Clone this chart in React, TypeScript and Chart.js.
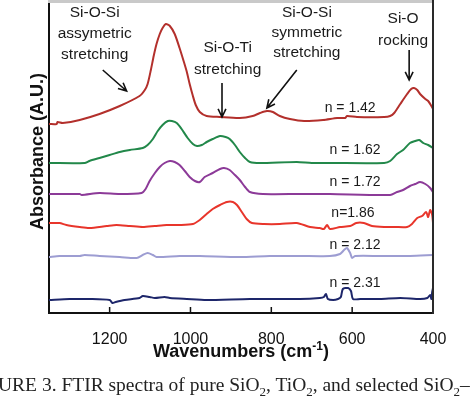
import { useEffect, useRef } from "react";
import { Chart, registerables } from "chart.js";

Chart.register(...registerables);

// Wavenumber axis (cm-1), drawn high to low
const X_MIN = 400;
const X_MAX = 1350;
const X_TICKS = [1200, 1000, 800, 600, 400];
const INNER_TICKS = [1200, 1000, 800, 600];

// Absorbance axis (arbitrary units, spectra stacked with offsets)
const Y_MIN = 0;
const Y_MAX = 3.11;

// n = 1.42
const WN_142 = [1350, 1331, 1329, 1316, 1274, 1225, 1175, 1126, 1113, 1106, 1098, 1091, 1084, 1076, 1069, 1061, 1051, 1039, 1027, 1017, 1009, 1002, 994, 987, 977, 960, 927, 878, 846, 828, 811, 796, 779, 754, 719, 672, 637, 617, 613, 588, 521, 506, 496, 481, 464, 454, 447, 439, 432, 419, 412, 404, 400];
const ABS_142 = [1.89, 1.89, 1.91, 1.90, 1.93, 1.99, 2.07, 2.17, 2.23, 2.29, 2.43, 2.57, 2.69, 2.79, 2.85, 2.89, 2.87, 2.79, 2.65, 2.52, 2.41, 2.29, 2.17, 2.08, 2.01, 1.97, 1.96, 1.95, 1.97, 2.00, 2.02, 2.01, 1.97, 1.94, 1.92, 1.93, 1.95, 1.95, 1.97, 1.96, 1.96, 1.97, 2.00, 2.09, 2.19, 2.24, 2.25, 2.23, 2.19, 2.14, 2.12, 2.07, 2.04];

// n = 1.62
const WN_162 = [1350, 1262, 1250, 1225, 1200, 1175, 1150, 1118, 1106, 1093, 1081, 1069, 1056, 1046, 1034, 1022, 1007, 994, 984, 972, 960, 945, 927, 913, 903, 890, 878, 865, 853, 828, 737, 700, 655, 521, 506, 489, 474, 457, 444, 434, 424, 412, 400];
const ABS_162 = [1.50, 1.50, 1.52, 1.55, 1.58, 1.61, 1.63, 1.65, 1.68, 1.74, 1.82, 1.88, 1.92, 1.92, 1.90, 1.84, 1.75, 1.69, 1.67, 1.68, 1.71, 1.74, 1.77, 1.76, 1.74, 1.68, 1.61, 1.55, 1.51, 1.50, 1.51, 1.50, 1.50, 1.50, 1.52, 1.59, 1.63, 1.70, 1.72, 1.73, 1.70, 1.68, 1.65];

// n = 1.72
const WN_172 = [1350, 1274, 1269, 1225, 1175, 1121, 1111, 1101, 1088, 1076, 1064, 1051, 1039, 1027, 1014, 1002, 989, 977, 965, 945, 927, 917, 903, 890, 878, 865, 853, 821, 729, 655, 506, 489, 474, 457, 444, 432, 419, 407, 400];
const ABS_172 = [1.19, 1.19, 1.18, 1.20, 1.19, 1.20, 1.24, 1.32, 1.40, 1.46, 1.50, 1.52, 1.51, 1.48, 1.42, 1.36, 1.32, 1.31, 1.36, 1.40, 1.44, 1.45, 1.43, 1.38, 1.33, 1.26, 1.21, 1.19, 1.19, 1.19, 1.18, 1.21, 1.23, 1.27, 1.29, 1.31, 1.29, 1.25, 1.21];

// n = 1.86
const WN_186 = [1350, 1324, 1307, 1274, 1250, 1207, 1183, 1150, 1118, 1088, 1059, 1027, 994, 977, 960, 945, 927, 910, 895, 885, 873, 861, 848, 818, 779, 737, 704, 680, 670, 662, 655, 630, 605, 590, 571, 551, 521, 494, 464, 452, 439, 427, 417, 412, 407, 402, 400];
const ABS_186 = [0.90, 0.90, 0.88, 0.86, 0.85, 0.87, 0.88, 0.87, 0.86, 0.87, 0.88, 0.88, 0.89, 0.93, 0.99, 1.04, 1.08, 1.11, 1.11, 1.08, 1.01, 0.94, 0.90, 0.89, 0.89, 0.90, 0.86, 0.85, 0.84, 0.88, 0.84, 0.86, 0.87, 0.90, 0.90, 0.87, 0.86, 0.86, 0.86, 0.89, 0.95, 0.97, 1.01, 0.96, 1.03, 0.98, 0.90];

// n = 2.12
const WN_212 = [1350, 1324, 1274, 1262, 1225, 1175, 1133, 1118, 1106, 1093, 1084, 1027, 977, 878, 804, 729, 655, 630, 620, 613, 605, 600, 593, 531, 457, 400];
const ABS_212 = [0.56, 0.57, 0.57, 0.58, 0.57, 0.56, 0.55, 0.58, 0.60, 0.58, 0.56, 0.57, 0.57, 0.56, 0.57, 0.57, 0.57, 0.59, 0.63, 0.65, 0.60, 0.55, 0.57, 0.57, 0.57, 0.58];

// n = 2.31
const WN_231 = [1350, 1299, 1250, 1200, 1193, 1185, 1163, 1126, 1118, 1101, 1088, 1064, 1051, 1009, 960, 853, 729, 680, 670, 665, 660, 647, 635, 628, 623, 610, 603, 598, 580, 531, 481, 432, 414, 407, 404, 402, 400];
const ABS_231 = [0.13, 0.14, 0.14, 0.13, 0.10, 0.11, 0.13, 0.15, 0.17, 0.16, 0.15, 0.16, 0.15, 0.14, 0.13, 0.14, 0.14, 0.15, 0.16, 0.19, 0.14, 0.13, 0.14, 0.16, 0.24, 0.25, 0.22, 0.14, 0.14, 0.14, 0.15, 0.14, 0.15, 0.18, 0.14, 0.21, 0.25];

const SERIES_WN = [WN_142, WN_162, WN_172, WN_186, WN_212, WN_231];
const SERIES_ABS = [ABS_142, ABS_162, ABS_172, ABS_186, ABS_212, ABS_231];
const SERIES_LABELS = ["n = 1.42", "n = 1.62", "n = 1.72", "n=1.86", "n = 2.12", "n = 2.31"];
const SERIES_COLORS = ["#B3302C", "#22884A", "#8C3A98", "#E8352B", "#9D9DD2", "#1D266A"];
const LABEL_WN = [605, 593, 593, 598, 593, 593];
const LABEL_ABS = [2.05, 1.63, 1.31, 1.00, 0.68, 0.30];

// Band assignments: text lines, text centre (wn), first-line height, line step, arrow tail and head
const NOTE_LINES = [
  ["Si-O-Si", "assymetric", "stretching"],
  ["Si-O-Ti", "stretching"],
  ["Si-O-Si", "symmetric", "stretching"],
  ["Si-O", "rocking"],
];
const NOTE_WN = [1237, 908, 712, 474];
const NOTE_ABS = [3.0, 2.65, 3.0, 2.94];
const NOTE_STEP = [0.21, 0.22, 0.2, 0.22];
const ARROW_FROM = [[1217, 2.43], [922, 2.3], [737, 2.43], [459, 2.63]];
const ARROW_TO = [[1158, 2.22], [922, 1.96], [811, 2.05], [459, 2.33]];

const SANS = '"Liberation Sans", Arial, sans-serif';

function drawArrow(ctx: CanvasRenderingContext2D, x1: number, y1: number, x2: number, y2: number) {
  const ang = Math.atan2(y2 - y1, x2 - x1);
  const head = 9;
  const spread = 0.45;
  ctx.beginPath();
  ctx.moveTo(x1, y1);
  ctx.lineTo(x2, y2);
  ctx.moveTo(x2 - head * Math.cos(ang - spread), y2 - head * Math.sin(ang - spread));
  ctx.lineTo(x2, y2);
  ctx.lineTo(x2 - head * Math.cos(ang + spread), y2 - head * Math.sin(ang + spread));
  ctx.stroke();
}

const decorations = {
  id: "spectraDecorations",
  afterDatasetsDraw(chart: any) {
    const { ctx, chartArea, scales } = chart;
    const xs = scales.x;
    const ys = scales.y;
    ctx.save();

    // frame: grey top edge, dark right edge
    ctx.fillStyle = "#c9c9c9";
    ctx.fillRect(chartArea.left - 1, 0, chartArea.right - chartArea.left + 2, 3);
    ctx.strokeStyle = "#2a2a2a";
    ctx.lineWidth = 2;
    ctx.beginPath();
    ctx.moveTo(chartArea.right, 0);
    ctx.lineTo(chartArea.right, chartArea.bottom + 1);
    ctx.stroke();

    // inward tick marks on the wavenumber axis
    ctx.strokeStyle = "#111";
    ctx.lineWidth = 1.5;
    INNER_TICKS.forEach((v) => {
      const x = xs.getPixelForValue(v);
      ctx.beginPath();
      ctx.moveTo(x, chartArea.bottom);
      ctx.lineTo(x, chartArea.bottom - 6);
      ctx.stroke();
    });

    // series labels
    ctx.fillStyle = "#1a1a1a";
    ctx.font = `14px ${SANS}`;
    ctx.textAlign = "center";
    ctx.textBaseline = "middle";
    SERIES_LABELS.forEach((t, i) => {
      ctx.fillText(t, xs.getPixelForValue(LABEL_WN[i]), ys.getPixelForValue(LABEL_ABS[i]));
    });

    // band assignments with arrows
    ctx.font = `15.5px ${SANS}`;
    NOTE_LINES.forEach((lines, i) => {
      const cx = xs.getPixelForValue(NOTE_WN[i]);
      lines.forEach((t, k) => {
        ctx.fillText(t, cx, ys.getPixelForValue(NOTE_ABS[i] - k * NOTE_STEP[i]));
      });
    });
    ctx.strokeStyle = "#111";
    ctx.lineWidth = 1.6;
    ARROW_FROM.forEach((f, i) => {
      const t = ARROW_TO[i];
      drawArrow(ctx, xs.getPixelForValue(f[0]), ys.getPixelForValue(f[1]), xs.getPixelForValue(t[0]), ys.getPixelForValue(t[1]));
    });

    // axis titles
    ctx.fillStyle = "#111";
    ctx.font = `bold 18px ${SANS}`;
    ctx.textBaseline = "alphabetic";
    ctx.save();
    ctx.translate(43, (chartArea.top + chartArea.bottom) / 2 - 6);
    ctx.rotate(-Math.PI / 2);
    ctx.textAlign = "center";
    ctx.fillText("Absorbance (A.U.)", 0, 0);
    ctx.restore();

    const main = "Wavenumbers (cm";
    const sup = "-1";
    const tail = ")";
    ctx.font = `bold 18px ${SANS}`;
    const wMain = ctx.measureText(main).width;
    const wTail = ctx.measureText(tail).width;
    ctx.font = `bold 12px ${SANS}`;
    const wSup = ctx.measureText(sup).width;
    const cx = (chartArea.left + chartArea.right) / 2;
    let x = cx - (wMain + wSup + wTail) / 2;
    const base = 357;
    ctx.textAlign = "left";
    ctx.font = `bold 18px ${SANS}`;
    ctx.fillText(main, x, base);
    x += wMain;
    ctx.font = `bold 12px ${SANS}`;
    ctx.fillText(sup, x, base - 7);
    x += wSup;
    ctx.font = `bold 18px ${SANS}`;
    ctx.fillText(tail, x, base);

    ctx.restore();
  },
};

export default function App() {
  const canvasRef = useRef<HTMLCanvasElement>(null);

  useEffect(() => {
    const canvas = canvasRef.current;
    if (!canvas) return;
    const datasets = SERIES_WN.map((wn, i) => ({
      label: SERIES_LABELS[i],
      data: wn.map((w, k) => ({ x: w, y: SERIES_ABS[i][k] })),
      borderColor: SERIES_COLORS[i],
      backgroundColor: SERIES_COLORS[i],
      borderWidth: 2,
      pointRadius: 0,
      tension: 0.25,
      fill: false,
    }));

    const chart = new Chart(canvas, {
      type: "line",
      data: { datasets },
      options: {
        responsive: false,
        animation: false,
        events: [],
        layout: { padding: { left: 0, right: 41, top: 2, bottom: 0 } },
        plugins: { legend: { display: false }, tooltip: { enabled: false } },
        scales: {
          x: {
            type: "linear",
            reverse: true,
            min: X_MIN,
            max: X_MAX,
            afterBuildTicks: (scale: any) => {
              scale.ticks = X_TICKS.map((v) => ({ value: v }));
            },
            afterFit: (scale: any) => {
              scale.height = 83;
            },
            grid: { display: false, drawTicks: false },
            border: { display: true, color: "#111", width: 2 },
            ticks: {
              padding: 17,
              maxRotation: 0,
              color: "#111",
              font: { family: SANS, size: 16 },
              callback: (v: any) => String(v),
            },
          },
          y: {
            type: "linear",
            min: Y_MIN,
            max: Y_MAX,
            afterFit: (scale: any) => {
              scale.width = 49;
            },
            grid: { display: false, drawTicks: false },
            border: { display: true, color: "#111", width: 2 },
            ticks: { display: false },
          },
        },
      },
      plugins: [decorations],
    });
    return () => chart.destroy();
  }, []);

  return (
    <div style={{ position: "fixed", left: 0, top: 0, width: 474, height: 396, overflow: "hidden", background: "#fff" }}>
      <canvas ref={canvasRef} width={474} height={396} style={{ position: "absolute", left: 0, top: 0 }} />
      <div
        style={{
          position: "absolute",
          left: -2,
          top: 374,
          whiteSpace: "nowrap",
          fontFamily: '"Liberation Serif", "Times New Roman", serif',
          fontSize: 19.5,
          lineHeight: "22px",
          color: "#222",
        }}
      >
        URE 3. FTIR spectra of pure SiO<sub style={{ fontSize: 13 }}>2</sub>, TiO<sub style={{ fontSize: 13 }}>2</sub>, and selected SiO<sub style={{ fontSize: 13 }}>2</sub>–
      </div>
    </div>
  );
}
